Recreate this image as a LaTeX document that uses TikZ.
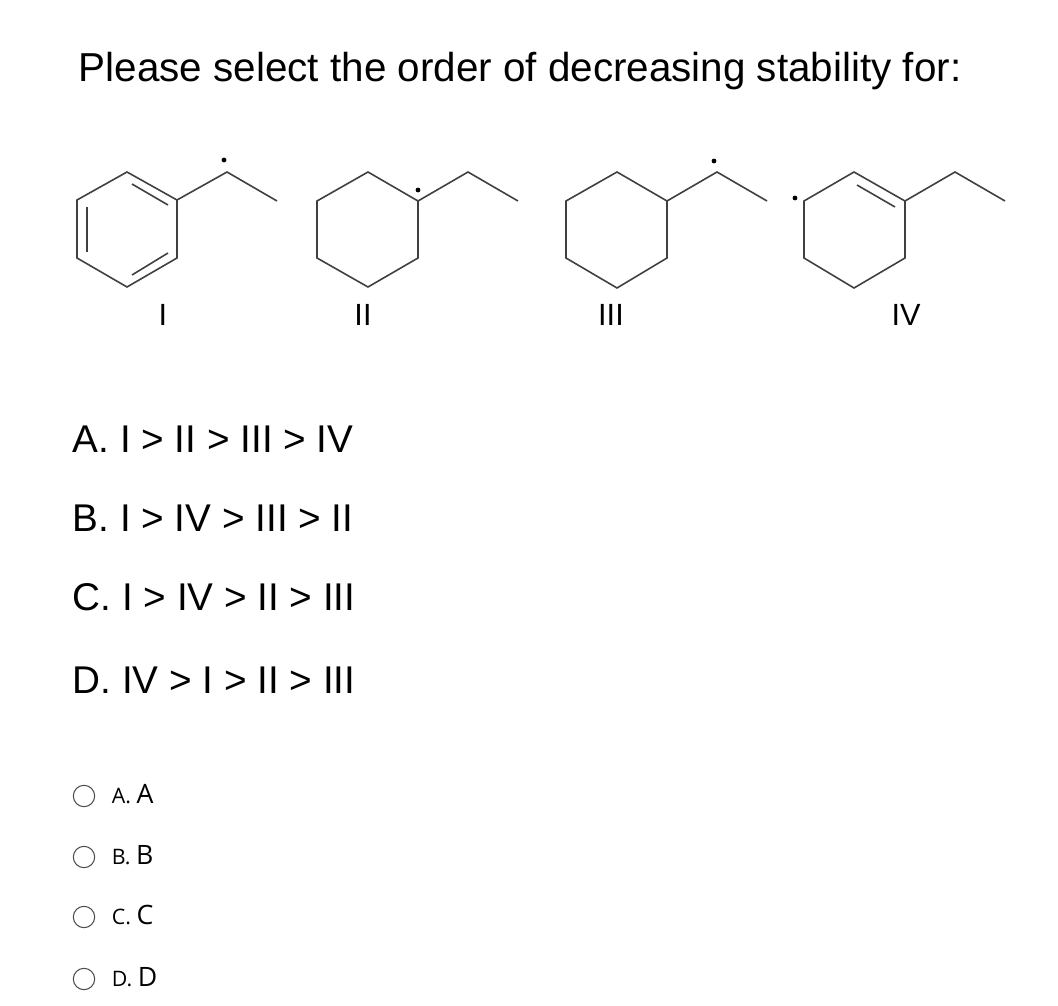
\documentclass[tikz,border=0pt]{standalone}
\usepackage{fontspec}
\setmainfont{Liberation Sans}
\newfontfamily\osans{Open Sans}
\begin{document}
\begin{tikzpicture}[x=0.75pt,y=-0.75pt,line width=1.3pt,
  bond/.style={draw=black!75,line width=1.2pt,line join=miter},
  rad/.style={circle,fill=black,inner sep=0pt,minimum size=3.6pt},
  lab/.style={font=\fontsize{23}{26}\selectfont,anchor=base},
  opt/.style={font=\fontsize{29}{32}\selectfont,anchor=base west,inner sep=0pt},
  radio/.style={circle,draw=black!70,line width=0.8pt,minimum size=16pt,inner sep=0pt},
  rlab/.style={font=\osans\fontsize{16}{20}\selectfont,anchor=base west,inner sep=0pt}]
\useasboundingbox (0,0) rectangle (1058,1006);
\node[anchor=base west,inner sep=0pt,font=\fontsize{30.3}{34}\selectfont] (title) at (78,82) {Please select the order of decreasing stability for:};
% I
\draw[bond] (127,172)--(77,200)--(77,258)--(127,287)--(177,258)--(177,200)--cycle;
\draw[bond] (177,200)--(227,172)--(277,201);
\draw[bond] (87,207)--(87,252);
\draw[bond] (132,184)--(168,205);
\draw[bond] (132,275)--(168,253);
\node[rad] (d1) at (224,160) {};
% II
\draw[bond] (368,172)--(317,201)--(317,258)--(368,287)--(418,258)--(418,201)--cycle;
\draw[bond] (418,201)--(468,172)--(518,201);
\node[rad] (d2) at (418,190) {};
% III
\draw[bond] (617,172)--(566,201)--(566,258)--(617,288)--(667,258)--(667,201)--cycle;
\draw[bond] (667,201)--(717,172)--(767,201);
\node[rad] (d3) at (714,161) {};
% IV
\draw[bond] (854,172)--(804,201)--(804,258)--(854,288)--(905,258)--(905,201)--cycle;
\draw[bond] (905,201)--(955,172)--(1005,201);
\draw[bond] (857,185)--(895,207);
\node[rad] (d4) at (795,198) {};
\node[lab] (l1) at (163,325) {I};
\node[lab] (l2) at (363,325) {II};
\node[lab] (l3) at (611,325) {III};
\node[lab] (l4) at (906,325) {IV};
\node[opt] (oa) at (72,452) {A. I > II > III > IV};
\node[opt] (ob) at (72,531) {B. I > IV > III > II};
\node[opt] (oc) at (72,610) {C. I > IV > II > III};
\node[opt] (od) at (72,693) {D. IV > I > II > III};
\node[radio] (r1) at (84,796) {};
\node[radio] (r2) at (84,857) {};
\node[radio] (r3) at (84,917) {};
\node[radio] (r4) at (84,979) {};
\node[rlab] (t1) at (111,803) {A. \fontsize{20}{22}\selectfont A};
\node[rlab] (t2) at (111,864) {B. \fontsize{20}{22}\selectfont B};
\node[rlab] (t3) at (111,924) {C. \fontsize{20}{22}\selectfont C};
\node[rlab] (t4) at (111,986) {D. \fontsize{20}{22}\selectfont D};
\end{tikzpicture}
\end{document}
